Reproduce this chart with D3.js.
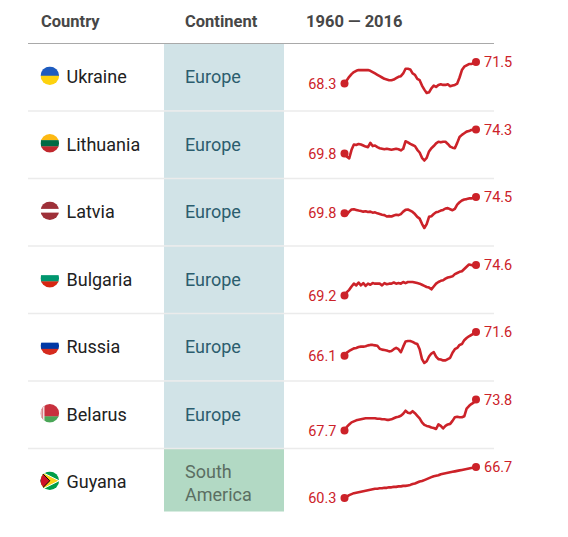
<!DOCTYPE html>
<html>
<head>
<meta charset="utf-8">
<script src="https://cdn.jsdelivr.net/npm/d3@7"></script>
<style>
  body { margin: 0; background: #fff; font-family: Roboto, "Noto Sans", sans-serif; }
</style>
</head>
<body>
<script>
// chart data
var countries = ["Ukraine", "Lithuania", "Latvia", "Bulgaria", "Russia", "Belarus", "Guyana"];
var continents = ["Europe", "Europe", "Europe", "Europe", "Europe", "Europe", "South America"];
var years = d3.range(1960, 2017);
var headers = ["Country", "Continent", "1960 \u2014 2016"];

// life expectancy, one value per year 1960..2016
var ukraine = [68.3,68.8,69.3,69.7,70.0,70.2,70.3,70.3,70.3,70.3,70.3,70.2,70.0,69.8,69.6,69.4,69.2,69.0,68.9,68.8,
  68.8,68.9,69.1,69.3,69.4,69.8,70.5,70.5,70.4,69.8,69.6,69.0,68.8,68.0,67.4,66.9,67.0,67.6,68.0,67.8,
  68.1,68.2,68.1,68.1,68.2,67.9,68.0,68.1,68.3,69.2,70.3,70.8,71.0,71.2,71.2,71.3,71.5];
var lithuania = [69.8,69.2,68.9,70.5,71.5,71.4,71.6,71.5,71.3,71.1,71.0,71.8,71.2,71.3,71.0,70.8,70.7,70.6,70.7,70.6,
  70.5,70.6,70.7,70.6,70.4,70.7,72.1,71.9,71.6,71.4,71.2,70.5,70.0,69.0,68.5,69.0,70.2,70.8,71.2,71.7,
  72.0,71.9,72.0,72.0,71.6,71.1,70.9,70.8,71.8,72.9,73.3,73.6,73.9,74.0,74.2,74.3,74.3];
var latvia = [69.8,69.5,70.3,70.9,71.0,70.8,70.6,70.5,70.3,70.4,70.2,70.3,70.0,70.1,69.8,69.6,69.4,69.3,68.9,69.0,
  68.9,69.2,69.4,69.3,69.6,70.3,70.8,70.9,70.6,70.2,69.6,68.8,68.3,66.8,65.6,66.7,68.8,69.0,69.6,70.1,
  70.3,70.6,70.8,71.2,71.3,71.0,70.7,71.1,72.3,73.0,73.5,73.8,73.9,74.1,74.1,74.3,74.5];
var bulgaria = [69.2,69.8,70.2,70.8,71.3,71.0,71.5,71.0,71.4,70.9,71.3,71.1,71.4,71.3,71.3,71.3,71.0,71.4,71.2,71.3,
  71.3,71.5,71.3,71.4,71.3,71.6,71.4,71.6,71.6,71.6,71.5,71.4,71.3,71.1,70.9,70.7,70.6,70.3,70.8,71.3,
  71.6,71.8,71.9,72.2,72.4,72.5,72.6,73.0,73.2,73.4,73.5,73.9,74.3,74.7,74.6,74.5,74.6];
var russia = [66.1,66.8,67.2,67.5,67.8,67.9,68.1,68.2,68.2,68.3,68.5,68.6,68.6,68.5,68.4,67.7,67.5,67.4,67.3,67.1,
  67.2,67.6,67.9,67.6,66.9,68.2,69.4,69.5,69.5,69.3,69.0,68.8,67.6,65.3,64.4,64.8,65.9,66.6,66.9,65.9,
  65.3,65.2,65.0,65.0,65.3,65.6,66.8,67.6,67.9,68.6,68.8,69.7,70.2,70.6,70.9,71.2,71.6];
var belarus = [67.7,68.4,68.9,69.3,69.5,69.7,69.8,69.9,70.0,70.1,70.1,70.1,70.1,70.1,70.0,70.0,69.9,69.9,69.8,69.8,
  69.9,70.1,70.3,70.4,70.6,71.0,71.6,71.2,71.1,71.5,71.1,70.6,70.1,69.3,68.8,68.6,68.5,68.3,68.2,68.0,
  68.9,68.6,68.1,68.6,68.9,69.0,69.6,70.3,70.4,70.3,70.3,70.5,72.0,72.5,72.9,73.2,73.8];
var guyana = [60.3,60.6,60.9,61.1,61.3,61.4,61.5,61.6,61.7,61.8,61.9,62.0,62.1,62.2,62.2,62.3,62.3,62.4,62.4,62.5,
  62.5,62.6,62.6,62.7,62.7,62.8,62.8,62.9,63.0,63.2,63.3,63.5,63.7,63.8,64.0,64.2,64.4,64.6,64.8,64.9,
  65.0,65.2,65.3,65.4,65.5,65.6,65.7,65.8,65.9,66.0,66.1,66.2,66.3,66.4,66.5,66.6,66.7];
var series = [ukraine, lithuania, latvia, bulgaria, russia, belarus, guyana];

//page size
var svgWidth = 568;
var svgHeight = 537;

//table layout
var tableLeft = 28, tableRight = 494;
var headerLine = 43;
var rowHeight = 67.5;
var contX0 = 164, contX1 = 284;
var lineColor = "#cc2229";

var svg = d3.select("body")
  .append("svg")
  .attr("width", svgWidth)
  .attr("height", svgHeight);

var defs = svg.append("defs");

//header
var headerX = [41, 185, 306];
svg.selectAll("text.head")
  .data(headers)
  .enter()
  .append("text")
  .attr("class", "head")
  .attr("x", (d, i) => headerX[i])
  .attr("y", 27)
  .attr("font-size", 16.5)
  .attr("font-weight", 700)
  .attr("fill", "#474747")
  .text(d => d);

//row bands
var rowY = d3.scaleBand()
  .domain(countries)
  .range([headerLine, headerLine + rowHeight * countries.length]);

//continent cells
svg.selectAll("rect.cont")
  .data(countries)
  .enter()
  .append("rect")
  .attr("class", "cont")
  .attr("x", contX0)
  .attr("y", d => rowY(d))
  .attr("width", contX1 - contX0)
  .attr("height", (d, i) => i === countries.length - 1 ? rowY.bandwidth() - 4 : rowY.bandwidth())
  .attr("fill", (d, i) => continents[i] === "Europe" ? "#d1e3e7" : "#b2d9c4");

//row dividers
svg.selectAll("line.div")
  .data(countries.slice(1))
  .enter()
  .append("line")
  .attr("class", "div")
  .attr("x1", tableLeft)
  .attr("x2", tableRight)
  .attr("y1", d => rowY(d) + 0.5)
  .attr("y2", d => rowY(d) + 0.5)
  .attr("stroke", "#ebebeb")
  .attr("stroke-width", 1.5);

svg.append("line")
  .attr("x1", tableLeft)
  .attr("x2", tableRight)
  .attr("y1", headerLine + 0.5)
  .attr("y2", headerLine + 0.5)
  .attr("stroke", "#a9a9a9")
  .attr("stroke-width", 1.2);

//flags, drawn inside a circle clip
function drawFlag(g, name, cx, cy) {
  var r = 9.3;
  var id = "clip-" + name;
  defs.append("clipPath").attr("id", id)
    .append("circle").attr("cx", cx).attr("cy", cy).attr("r", r);
  var f = g.append("g").attr("clip-path", `url(#${id})`);
  var x0 = cx - r, y0 = cy - r, w = 2 * r;
  function stripes(cols, weights) {
    var tot = d3.sum(weights), y = y0;
    cols.forEach(function(c, i) {
      var h = w * weights[i] / tot;
      f.append("rect").attr("x", x0).attr("y", y).attr("width", w).attr("height", h + 0.3).attr("fill", c);
      y += h;
    });
  }
  if (name === "Ukraine") stripes(["#1d5bbf", "#fdd20e"], [1, 1]);
  if (name === "Lithuania") stripes(["#fdb913", "#006a44", "#c1272d"], [1, 1, 1]);
  if (name === "Latvia") stripes(["#9e3039", "#ffffff", "#9e3039"], [2, 1, 2]);
  if (name === "Bulgaria") stripes(["#ffffff", "#00966e", "#d62612"], [1, 1, 1]);
  if (name === "Russia") stripes(["#ffffff", "#0039a6", "#d52b1e"], [1, 1, 1]);
  if (name === "Belarus") {
    stripes(["#c8313e", "#4aa657"], [2, 1]);
    f.append("rect").attr("x", x0).attr("y", y0).attr("width", 4).attr("height", w).attr("fill", "#f2dede");
    f.append("rect").attr("x", x0 + 1).attr("y", y0).attr("width", 1.5).attr("height", w).attr("fill", "#d9818a");
  }
  if (name === "Guyana") {
    f.append("rect").attr("x", x0).attr("y", y0).attr("width", w).attr("height", w).attr("fill", "#009e49");
    f.append("path").attr("d", `M${x0},${y0} L${x0 + w},${cy} L${x0},${y0 + w}Z`)
      .attr("fill", "#fcd116").attr("stroke", "#fff").attr("stroke-width", 1);
    f.append("path").attr("d", `M${x0},${y0} L${cx},${cy} L${x0},${y0 + w}Z`)
      .attr("fill", "#ce1126").attr("stroke", "#000").attr("stroke-width", 1);
  }
}

var rows = svg.selectAll("g.row")
  .data(countries)
  .enter()
  .append("g")
  .attr("class", "row");

rows.each(function(name, i) {
  var g = d3.select(this);
  var top = rowY(name);
  var mid = top + rowY.bandwidth() / 2;
  drawFlag(g, name, 49.8, mid - 1);
  g.append("text")
    .attr("x", 66.5)
    .attr("y", mid)
    .attr("dy", "0.35em")
    .attr("font-size", 18)
    .attr("fill", "#212121")
    .text(name);

  //continent label
  var cont = continents[i];
  if (cont === "Europe") {
    g.append("text")
      .attr("x", 185).attr("y", mid).attr("dy", "0.35em")
      .attr("font-size", 18).attr("fill", "#2b5d6e")
      .text(cont);
  } else {
    var t = g.append("text")
      .attr("x", 185).attr("y", mid - 10).attr("dy", "0.35em")
      .attr("font-size", 18).attr("fill", "#5b6e62");
    cont.split(" ").forEach(function(w, k) {
      t.append("tspan").attr("x", 185).attr("dy", k === 0 ? "0.35em" : "1.25em").text(w);
    });
  }

  //sparkline
  var vals = series[i];
  var x = d3.scaleLinear().domain([years[0], years[years.length - 1]]).range([344.5, 476]);
  var y = d3.scaleLinear().domain(d3.extent(vals)).range([top + 50, top + 19]);
  var line = d3.line()
    .x((d, k) => x(years[k]))
    .y(d => y(d));
  g.append("path")
    .attr("d", line(vals))
    .attr("fill", "none")
    .attr("stroke", lineColor)
    .attr("stroke-width", 2.6)
    .attr("stroke-linejoin", "round");
  var last = vals.length - 1;
  g.append("circle").attr("cx", x(years[0])).attr("cy", y(vals[0])).attr("r", 4).attr("fill", lineColor);
  g.append("circle").attr("cx", x(years[last])).attr("cy", y(vals[last])).attr("r", 4).attr("fill", lineColor);
  g.append("text")
    .attr("x", x(years[0]) - 8).attr("y", y(vals[0])).attr("dy", "0.35em")
    .attr("text-anchor", "end").attr("font-size", 14.5).attr("fill", lineColor)
    .text(vals[0].toFixed(1));
  g.append("text")
    .attr("x", x(years[last]) + 8).attr("y", y(vals[last])).attr("dy", "0.35em")
    .attr("font-size", 14.5).attr("fill", lineColor)
    .text(vals[last].toFixed(1));
});
</script>
</body>
</html>
